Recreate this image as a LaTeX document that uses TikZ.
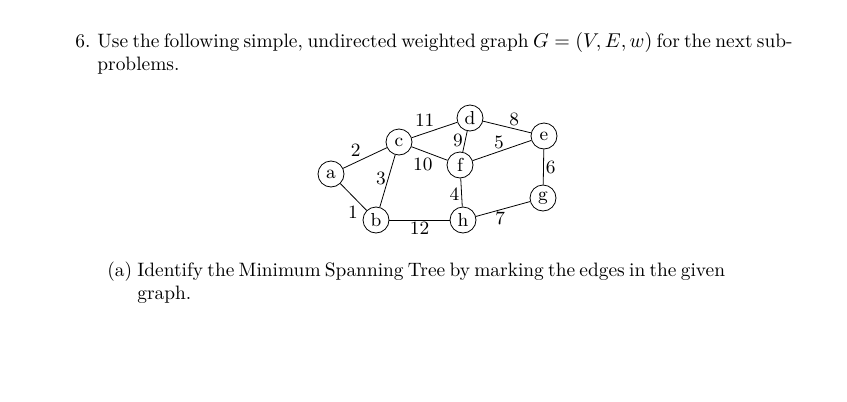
\documentclass[tikz,border=0pt]{standalone}
\begin{document}
\begin{tikzpicture}[x=0.5pt,y=-0.5pt,
 vtx/.style={circle,draw,minimum size=13pt,inner sep=0pt,font=\fontsize{9.4}{10}\selectfont},
 wl/.style={font=\fontsize{9.4}{10}\selectfont,inner sep=1pt},
 txt/.style={font=\fontsize{9.7}{11.5}\selectfont,inner sep=0pt}]
\useasboundingbox (0,0) rectangle (847,402);
\node[txt,anchor=base west] (n6) at (75,47) {6.};
\node[txt,anchor=base west] (p1) at (97,47)
 {\makebox[340.5pt][s]{Use the following simple, undirected weighted graph $G=(V,E,w)$ for the next sub-}};
\node[txt,anchor=base west] (p1b) at (97,70) {problems.};
\node[txt,anchor=base west] (na) at (107,276) {(a)};
\node[txt,anchor=base west] (p2) at (137,276)
 {\makebox[280.5pt][s]{Identify the Minimum Spanning Tree by marking the edges in the given}};
\node[txt,anchor=base west] (p2b) at (137,299) {graph.};
\node[vtx] (a) at (331,174) {a};
\node[vtx] (c) at (399,142) {c};
\node[vtx] (d) at (470,118) {d};
\node[vtx] (e) at (544,136) {e};
\node[vtx] (f) at (460,165) {f};
\node[vtx] (g) at (543,198) {g};
\node[vtx] (b) at (376,220) {b};
\node[vtx] (h) at (463,220) {h};
\draw (a) -- (c) node[wl,pos=0.45,above left] {2};
\draw (a) -- (b) node[wl,pos=0.75,below left] {1};
\draw (c) -- (b) node[wl,pos=0.45,left] {3};
\draw (c) -- (d) node[wl,pos=0.55,above left] {11};
\draw (c) -- (f) node[wl,pos=0.65,below left] {10};
\draw (d) -- (f) node[wl,pos=0.45,left] {9};
\draw (d) -- (e) node[wl,pos=0.65,above] {8};
\draw (f) -- (e) node[wl,pos=0.45,above] {5};
\draw (e) -- (g) node[wl,midway,right] {6};
\draw (f) -- (h) node[wl,pos=0.55,left] {4};
\draw (b) -- (h) node[wl,pos=0.5,below] {12};
\draw (h) -- (g) node[wl,pos=0.45,below] {7};
\end{tikzpicture}
\end{document}
